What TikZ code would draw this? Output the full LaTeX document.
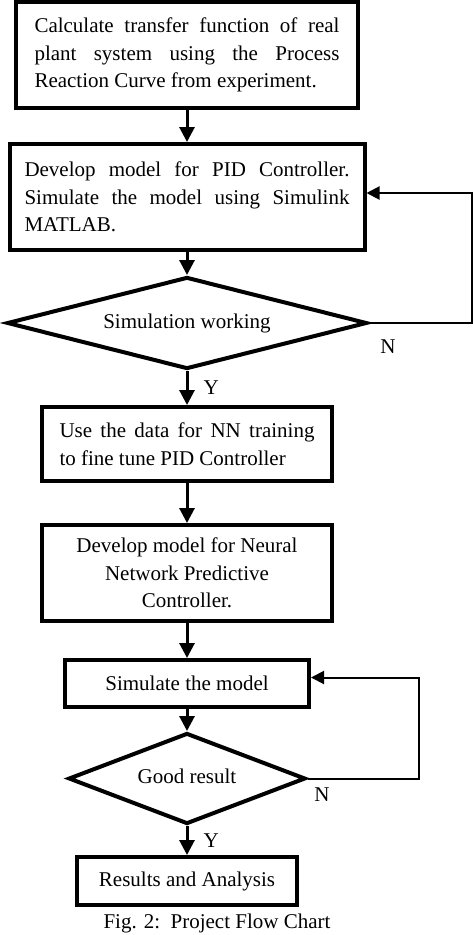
\documentclass[tikz,border=0pt]{standalone}
\usepackage{fontspec}
\setmainfont{Liberation Serif}
\usetikzlibrary{arrows.meta, positioning, shapes.geometric}

\begin{document}
\begin{tikzpicture}[
    x=1pt, y=-1pt,
    font=\fontsize{21}{27.5}\selectfont,
    box/.style={draw, line width=4pt, inner sep=0pt, align=center},
    textbox/.style={box, align=justify},
    decision/.style={diamond, draw, line width=4pt, inner sep=0pt, aspect=4},
    flow/.style={line width=3pt, -{Triangle[length=15pt, width=15pt]}},
    loopback/.style={line width=2pt, -{Triangle[length=13pt, width=13pt]}},
    yn/.style={inner sep=0pt}
]
\useasboundingbox (0,0) rectangle (474,935);

% Upper part
\node[textbox, minimum width=342pt, minimum height=106pt, text width=305pt] (tf) at (187,55)
    {Calculate transfer function of real\linebreak plant system using the Process\linebreak Reaction Curve from experiment.};
\node[textbox, minimum width=355pt, minimum height=106pt, text width=325pt] (pid) at (187,197)
    {Develop model for PID Controller.\linebreak Simulate the model using Simulink\linebreak MATLAB.};
\node[decision, minimum width=360pt, minimum height=92pt] (simok) at (187,323) {\raisebox{4pt}{Simulation working}};
\node[textbox, minimum width=290pt, minimum height=74pt, text width=255pt] (nn) at (187,444)
    {Use the data for NN training\linebreak to fine tune PID Controller};
\node[box, minimum width=290pt, minimum height=96pt] (nnpc) at (187,573)
    {Develop model for Neural\\ Network Predictive\\ Controller.};

% Lower part
\node[box, minimum width=244pt, minimum height=47pt] (sim) at (187,683.5) {Simulate the model};
\node[decision, minimum width=237pt, minimum height=91pt] (good) at (187,778.5) {\raisebox{4pt}{Good result}};
\node[box, minimum width=220pt, minimum height=48pt] (res) at (187,881) {Results and Analysis};

\node[yn] (n1) at (388,347) {N};
\node[yn] (n2) at (322,795) {N};
\node[anchor=base west] (cap) at (100,928) {Fig. 2:\ \ Project Flow Chart};

\coordinate (loopA) at (472,0);
\coordinate (loopB) at (419,0);

% Connectors
\draw[flow] (tf) -- (pid);
\draw[flow] (pid) -- (simok);
\draw[flow] (simok) -- node[yn, right=15pt] (y1) {Y} (nn);
\draw[flow] (nn) -- (nnpc);
\draw[flow] (nnpc) -- (sim);
\draw[flow] (sim) -- (good);
\draw[flow] (good) -- node[yn, right=15pt] (y2) {Y} (res);
\draw[loopback] (simok.east) -- (simok.east -| loopA) |- ([yshift=4pt]pid.east);
\draw[loopback] (good.east) -- (good.east -| loopB) |- ([yshift=6pt]sim.east);
\end{tikzpicture}
\end{document}
